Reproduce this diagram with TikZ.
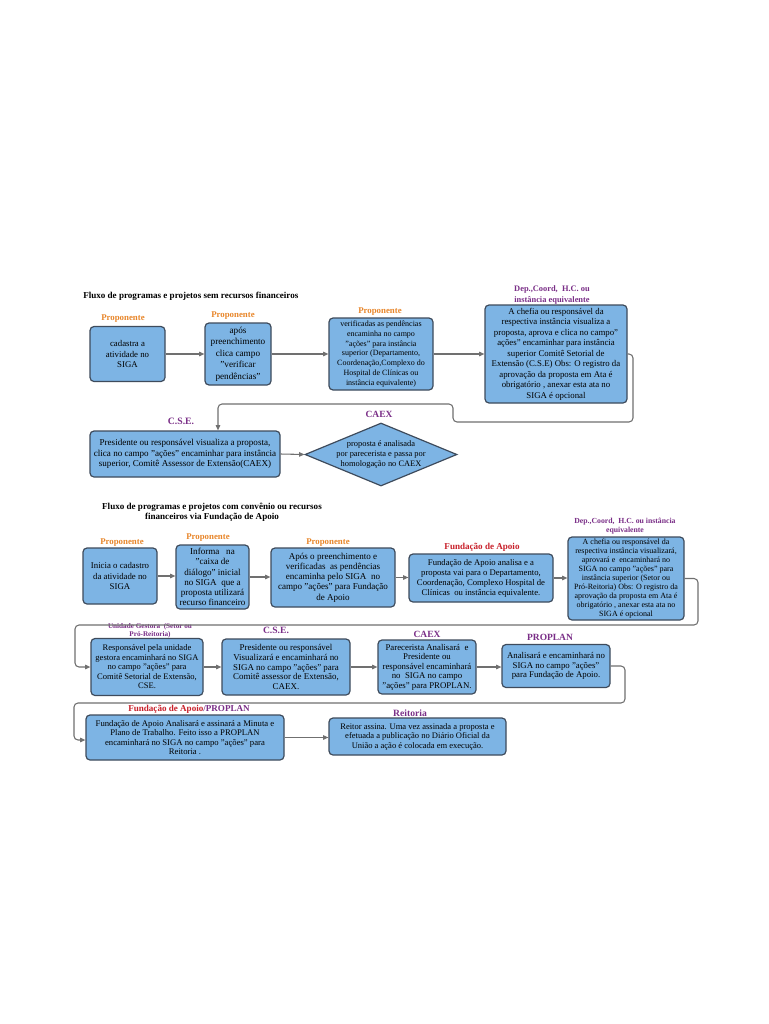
\documentclass[tikz,border=0pt]{standalone}
\usepackage{fontspec}
\setmainfont{Liberation Serif}
\usetikzlibrary{arrows.meta,shapes.geometric}
\definecolor{boxfill}{RGB}{125,180,228}
\definecolor{boxline}{RGB}{62,75,92}
\definecolor{arrowgray}{RGB}{112,112,112}
\definecolor{lblorange}{RGB}{232,134,42}
\definecolor{lblpurple}{RGB}{122,46,135}
\definecolor{lblred}{RGB}{200,32,42}
\newcommand{\fz}[2]{\fontsize{#1}{#2}\selectfont}
\begin{document}
\begin{tikzpicture}[x=0.75pt,y=-0.75pt,
  box/.style={draw=boxline, fill=boxfill, line width=0.9pt, rounded corners=3pt, align=center, inner sep=0pt, text=black},
  sz/.style 2 args={minimum width=#1*0.75pt, minimum height=#2*0.75pt},
  lbl/.style={inner sep=0pt, align=center, font=\bfseries\fz{6.6}{7.2}},
  orangelbl/.style={lbl, text=lblorange},
  purplelbl/.style={lbl, text=lblpurple},
  redlbl/.style={lbl, text=lblred},
  ttl/.style={inner sep=0pt, align=center, font=\bfseries\fz{6.8}{7.8}},
  arr/.style={draw=arrowgray, line width=0.8pt, -{Triangle[length=4pt,width=3.4pt]}},
  ret/.style={arr, rounded corners=3pt}
]
\useasboundingbox (0,0) rectangle (768,1024);
\fill[white] (0,0) rectangle (768,1024);

% ---------- section 1 ----------
\node[ttl, anchor=west] (T1) at (83,296) {Fluxo de programas e projetos sem recursos financeiros};

\node[box, sz={75}{55}, font=\fz{6.6}{8.2}] (A1) at (127.5,354) {cadastra a\\atividade no\\SIGA};
\node[orangelbl] (LA1) at (123,319) {Proponente};

\node[box, sz={66}{62}, font=\fz{6.9}{8.6}] (A2) at (238,354) {após\\preenchimento\\clica campo\\"verificar\\pendências"};
\node[orangelbl] (LA2) at (233,316) {Proponente};

\node[box, sz={104}{72}, font=\fz{6}{7.3}] (A3) at (381,354) {verificadas as pendências\\encaminha no campo\\"ações" para instância\\superior (Departamento,\\Coordenação,Complexo do\\Hospital de Clínicas ou\\instância equivalente)};
\node[orangelbl] (LA3) at (380,312) {Proponente};

\node[box, sz={142}{98}, font=\fz{6.6}{7.9}] (A4) at (556,354) {A chefia ou responsável da\\respectiva instância visualiza a\\proposta, aprova e clica no campo"\\ações" encaminhar para instância\\superior Comitê Setorial de\\Extensão (C.S.E) Obs: O registro da\\aprovação da proposta em Ata é\\obrigatório , anexar esta ata no\\SIGA é opcional};
\node[purplelbl, font=\bfseries\fz{6.3}{7.8}] (LA4) at (552,295) {Dep.,Coord,\ \ H.C. ou\\instância equivalente};

\node[box, sz={190}{46}, font=\fz{6.8}{7.9}] (B1) at (185,454) {Presidente ou responsável visualiza a proposta,\\clica no campo "ações" encaminhar para instância\\superior, Comitê Assessor de Extensão(CAEX)};
\node[purplelbl, font=\bfseries\fz{7.3}{8}] (LB1) at (181,421) {C.S.E.};

\node[diamond, draw=boxline, fill=boxfill, line width=0.9pt, inner sep=0pt, aspect=2.4, sz={152}{63}] (B2) at (381,454.5) {};
\node[inner sep=0pt, align=center, font=\fz{6.3}{7.6}] (B2t) at (B2.center) {proposta é analisada\\por parecerista e passa por\\homologação no CAEX};
\node[purplelbl, font=\bfseries\fz{7.1}{8}] (LB2) at (379,414) {CAEX};

\draw[arr] (A1.east) -- (A2.west |- A1.east);
\draw[arr] (A2.east) -- (A3.west |- A2.east);
\draw[arr] (A3.east) -- (A4.west |- A3.east);
\draw[ret] (A4.east) -| (633,422) -| (453,404) -| (B1.north -| 218,0);
\draw[arr] (B1.east) -- (B2.west);

% ---------- section 2 ----------
\node[ttl] (T2) at (212,512) {Fluxo de programas e projetos com convênio ou recursos\\financeiros via Fundação de Apoio};

\node[box, sz={74}{56}, font=\fz{6.6}{8}] (C1) at (120,576) {Inicia o cadastro\\da atividade no\\SIGA};
\node[orangelbl] (LC1) at (122,543) {Proponente};

\node[box, sz={73}{64}, font=\fz{6.8}{7.6}] (C2) at (212.5,577) {Informa\ \ \ na\\"caixa de\\diálogo" inicial\\no SIGA\ \ que a\\proposta utilizará\\recurso financeiro};
\node[orangelbl] (LC2) at (208,538) {Proponente};

\node[box, sz={124}{59}, font=\fz{6.8}{7.7}] (C3) at (333,577.5) {Após o preenchimento e\\verificadas\ \ as pendências\\encaminha pelo SIGA\ \ no\\campo "ações" para Fundação\\de Apoio};
\node[orangelbl] (LC3) at (328,543) {Proponente};

\node[box, sz={144}{48}, font=\fz{6.5}{7.5}] (C4) at (481,578) {Fundação de Apoio analisa e a\\proposta vai para o Departamento,\\Coordenação, Complexo Hospital de\\Clínicas\ \ ou instância equivalente.};
\node[redlbl, font=\bfseries\fz{6.8}{7.5}] (LC4) at (482,547) {Fundação de Apoio};

\node[box, sz={116}{83}, font=\fz{6}{6.8}] (C5) at (626,578.5) {A chefia ou responsável da\\respectiva instância visualizará,\\aprovará e\ \ encaminhará no\\SIGA no campo "ações" para\\instância superior (Setor ou\\Pró-Reitoria) Obs: O registro da\\aprovação da proposta em Ata é\\obrigatório , anexar esta ata no\\SIGA é opcional};
\node[purplelbl, font=\bfseries\fz{5.8}{6.3}] (LC5) at (625,526) {Dep.,Coord,\ \ H.C. ou instância\\equivalente};

\draw[arr] (C1.east) -- (C2.west |- C1.east);
\draw[arr] (C2.east) -- (C3.west |- C2.east);
\draw[arr] (C3.east) -- (C4.west |- C3.east);
\draw[arr] (C4.east) -- (C5.west |- C4.east);

\node[box, sz={112}{57}, font=\fz{6.4}{7.1}] (D1) at (147,667) {Responsável pela unidade\\gestora encaminhará no SIGA\\no campo "ações" para\\Comitê Setorial de Extensão,\\CSE.};
\node[purplelbl, font=\bfseries\fz{5.4}{6}] (LD1) at (150,631) {Unidade Gestora\ \ (Setor ou\\Pró-Reitoria)};

\node[box, sz={128}{56}, font=\fz{6.7}{7.2}] (D2) at (286,667) {Presidente ou responsável\\Visualizará e encaminhará no\\SIGA no campo "ações" para\\Comitê assessor de Extensão,\\CAEX.};
\node[purplelbl, font=\bfseries\fz{7.2}{8}] (LD2) at (276,630) {C.S.E.};

\node[box, sz={98}{54}, font=\fz{6.6}{7.1}] (D3) at (427,667) {Parecerista Analisará\ \ e\\Presidente ou\\responsável encaminhará\\no\ \ SIGA no campo\\"ações" para PROPLAN.};
\node[purplelbl, font=\bfseries\fz{7.1}{8}] (LD3) at (427,634) {CAEX};

\node[box, sz={108}{43}, font=\fz{6.6}{7.1}] (D4) at (556,666) {Analisará e encaminhará no\\SIGA no campo "ações"\\para Fundação de Apoio.};
\node[purplelbl, font=\bfseries\fz{7.1}{8}] (LD4) at (550,637) {PROPLAN};

\draw[ret] (C5.east) -| (698,625) -| (75,667) -- (D1.west |- 0,667);
\draw[arr] (D1.east) -- (D2.west |- D1.east);
\draw[arr] (D2.east) -- (D3.west |- D2.east);
\draw[arr] (D3.east) -- (D4.west |- D3.east);

\node[box, sz={198}{45}, font=\fz{6.5}{7.1}] (E1) at (185,737.5) {Fundação de Apoio Analisará e assinará a Minuta e\\Plano de Trabalho. Feito isso a PROPLAN\\encaminhará no SIGA no campo "ações" para\\Reitoria .};
\node[lbl, font=\bfseries\fz{6.8}{7.5}] (LE1) at (189,709) {\textcolor{lblred}{Fundação de Apoio}\textcolor{lblpurple}{/PROPLAN}};

\node[box, sz={177}{37}, font=\fz{6.4}{7.1}] (E2) at (417.5,736.5) {Reitor assina. Uma vez assinada a proposta e\\efetuada a publicação no Diário Oficial da\\União a ação é colocada em execução.};
\node[purplelbl, font=\bfseries\fz{7.2}{8}] (LE2) at (410,713) {Reitoria};

\draw[ret] (D4.east) -| (625,703) -| (74,740) -- (E1.west |- 0,740);
\draw[arr] (E1.east) -- (E2.west |- E1.east);
\end{tikzpicture}
\end{document}
